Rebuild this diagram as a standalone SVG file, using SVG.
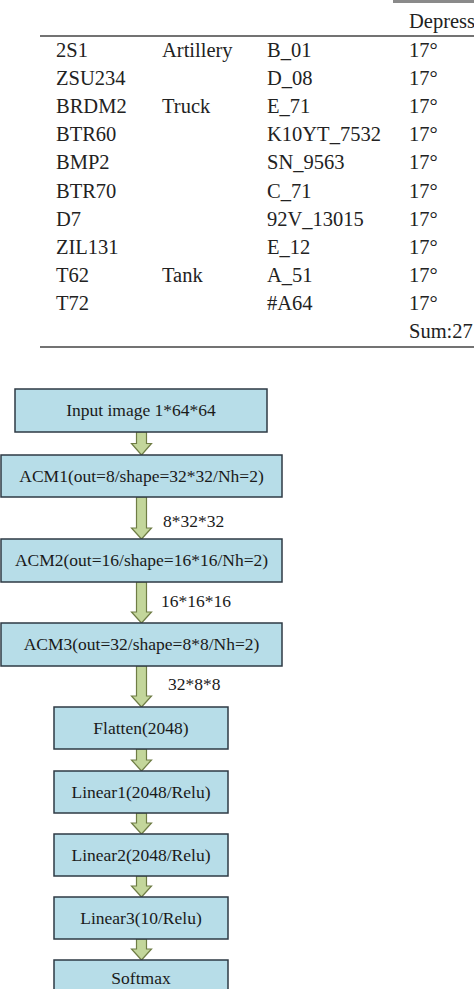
<svg xmlns="http://www.w3.org/2000/svg" width="474" height="989" viewBox="0 0 474 989">
<style>
.t{font-family:"Liberation Serif","Times New Roman",serif;font-size:20.5px;fill:#222}
.b{fill:#b7dde8;stroke:#2e3a44;stroke-width:1.5}
.bt{font-family:"Liberation Serif","Times New Roman",serif;font-size:17.5px;fill:#1a1a1a;text-anchor:middle}
.lb{font-family:"Liberation Serif","Times New Roman",serif;font-size:17.5px;fill:#1a1a1a}
.ar{fill:#c3d69b;stroke:#6f7d45;stroke-width:1.2;stroke-linejoin:miter}
</style>
<rect width="474" height="989" fill="#fff"/>
<g id="table">
<rect x="393" y="0" width="81" height="3" fill="#8a8a8a"/>
<text class="t" x="409" y="28">Depress</text>
<line x1="40" y1="36" x2="474" y2="36" stroke="#444" stroke-width="1.3"/>
<text class="t" x="56" y="57">2S1</text><text class="t" x="162" y="57">Artillery</text><text class="t" x="267" y="57">B_01</text><text class="t" x="409" y="57">17°</text>
<text class="t" x="56" y="85.1">ZSU234</text><text class="t" x="267" y="85.1">D_08</text><text class="t" x="409" y="85.1">17°</text>
<text class="t" x="56" y="113.2">BRDM2</text><text class="t" x="162" y="113.2">Truck</text><text class="t" x="267" y="113.2">E_71</text><text class="t" x="409" y="113.2">17°</text>
<text class="t" x="56" y="141.3">BTR60</text><text class="t" x="267" y="141.3">K10YT_7532</text><text class="t" x="409" y="141.3">17°</text>
<text class="t" x="56" y="169.4">BMP2</text><text class="t" x="267" y="169.4">SN_9563</text><text class="t" x="409" y="169.4">17°</text>
<text class="t" x="56" y="197.5">BTR70</text><text class="t" x="267" y="197.5">C_71</text><text class="t" x="409" y="197.5">17°</text>
<text class="t" x="56" y="225.6">D7</text><text class="t" x="267" y="225.6">92V_13015</text><text class="t" x="409" y="225.6">17°</text>
<text class="t" x="56" y="253.7">ZIL131</text><text class="t" x="267" y="253.7">E_12</text><text class="t" x="409" y="253.7">17°</text>
<text class="t" x="56" y="281.8">T62</text><text class="t" x="162" y="281.8">Tank</text><text class="t" x="267" y="281.8">A_51</text><text class="t" x="409" y="281.8">17°</text>
<text class="t" x="56" y="309.9">T72</text><text class="t" x="267" y="309.9">#A64</text><text class="t" x="409" y="309.9">17°</text>
<text class="t" x="409" y="338">Sum:27</text>
<line x1="40" y1="347" x2="474" y2="347" stroke="#444" stroke-width="1.3"/>
</g>
<g id="connectors">
<path class="ar" d="M136.5,432 V443.5 H131.5 L141.5,455 L151.5,443.5 H146.5 V432 Z"/>
<path class="ar" d="M136.5,497 V528 H131.5 L141.5,539 L151.5,528 H146.5 V497 Z"/>
<path class="ar" d="M136.5,582 V612 H131.5 L141.5,623 L151.5,612 H146.5 V582 Z"/>
<path class="ar" d="M136.5,666 V696 H131.5 L141.5,707 L151.5,696 H146.5 V666 Z"/>
<path class="ar" d="M136.5,749 V760 H131.5 L141.5,771 L151.5,760 H146.5 V749 Z"/>
<path class="ar" d="M136.5,813 V823 H131.5 L141.5,834 L151.5,823 H146.5 V813 Z"/>
<path class="ar" d="M136.5,876 V886 H131.5 L141.5,897 L151.5,886 H146.5 V876 Z"/>
<path class="ar" d="M136.5,939 V949 H131.5 L141.5,960 L151.5,949 H146.5 V939 Z"/>
<text class="lb" x="163" y="527">8*32*32</text>
<text class="lb" x="161" y="607">16*16*16</text>
<text class="lb" x="168" y="690">32*8*8</text>
</g>
<g id="input"><rect class="b" x="15" y="389" width="252" height="43"/><text class="bt" x="141" y="416">Input image 1*64*64</text></g>
<g id="acm1"><rect class="b" x="1" y="455" width="281" height="42"/><text class="bt" x="141.5" y="482">ACM1(out=8/shape=32*32/Nh=2)</text></g>
<g id="acm2"><rect class="b" x="1" y="539" width="281" height="43"/><text class="bt" x="141.5" y="566">ACM2(out=16/shape=16*16/Nh=2)</text></g>
<g id="acm3"><rect class="b" x="1" y="623" width="281" height="43"/><text class="bt" x="141.5" y="650">ACM3(out=32/shape=8*8/Nh=2)</text></g>
<g id="flatten"><rect class="b" x="54" y="707" width="174" height="42"/><text class="bt" x="141" y="734">Flatten(2048)</text></g>
<g id="linear1"><rect class="b" x="54" y="771" width="174" height="42"/><text class="bt" x="141" y="798">Linear1(2048/Relu)</text></g>
<g id="linear2"><rect class="b" x="54" y="834" width="174" height="42"/><text class="bt" x="141" y="861">Linear2(2048/Relu)</text></g>
<g id="linear3"><rect class="b" x="54" y="897" width="174" height="42"/><text class="bt" x="141" y="924">Linear3(10/Relu)</text></g>
<g id="softmax"><rect class="b" x="54" y="960" width="174" height="45"/><text class="bt" x="141" y="984">Softmax</text></g>
</svg>
